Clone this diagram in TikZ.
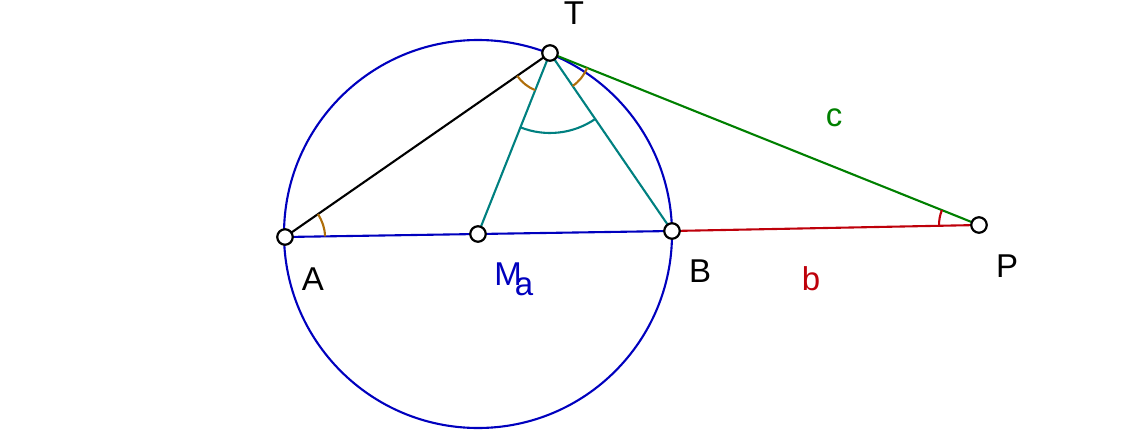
\documentclass[tikz,border=0pt]{standalone}
\usepackage{fontspec}
\setmainfont{Liberation Sans}
\usetikzlibrary{angles}
\definecolor{cblue}{RGB}{0,0,190}
\definecolor{cteal}{RGB}{0,128,128}
\definecolor{cgreen}{RGB}{0,128,0}
\definecolor{cred}{RGB}{190,0,10}
\definecolor{cbrown}{RGB}{175,110,10}
\begin{document}
\begin{tikzpicture}[x=1pt,y=-1pt,line width=2.1pt,
  ptmark/.style={circle,draw=black,fill=white,line width=2.2pt,minimum size=15.5pt,inner sep=0pt},
  lbl/.style={anchor=base,inner sep=0pt,font=\fontsize{33}{38}\selectfont},
  angmark/.style={draw=cbrown,line width=2.1pt,angle radius=40pt}]
\useasboundingbox (0,0) rectangle (1123,441);
\coordinate (A) at (285,237);
\coordinate (M) at (478,234);
\coordinate (B) at (672,231);
\coordinate (T) at (550,53);
\coordinate (P) at (979,225);
\draw[cblue] (M) circle[radius=194pt];
\draw[cblue] (A) -- (B);
\draw[cred] (B) -- (P);
\draw[black] (A) -- (T);
\draw[cteal] (T) -- (M);
\draw[cteal] (T) -- (B);
\draw[cgreen] (T) -- (P);
\pic[angmark] {angle = B--A--T};
\pic[angmark] {angle = A--T--M};
\pic[angmark] {angle = B--T--P};
\pic[angmark,draw=cteal,angle radius=80pt] {angle = M--T--B};
\pic[angmark,draw=cred] {angle = T--P--B};
\node[ptmark] (pA) at (A) {};
\node[ptmark] (pM) at (M) {};
\node[ptmark] (pB) at (B) {};
\node[ptmark] (pT) at (T) {};
\node[ptmark] (pP) at (P) {};
\node[lbl] (lT) at (574,25) {T};
\node[lbl] (lA) at (313,290) {A};
\node[lbl,text=cblue] (lM) at (508,285) {M};
\node[lbl,text=cblue] (la) at (524,295) {a};
\node[lbl] (lB) at (700,282) {B};
\node[lbl,text=cred] (lb) at (811,290) {b};
\node[lbl,text=cgreen] (lc) at (834,127) {c};
\node[lbl] (lP) at (1007,277) {P};
\end{tikzpicture}
\end{document}
